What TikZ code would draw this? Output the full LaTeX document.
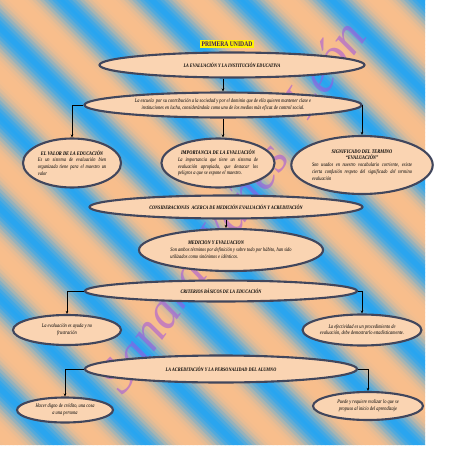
\documentclass[tikz,border=0pt]{standalone}
\usepackage{fontspec}
\setmainfont{Liberation Serif}[FakeStretch=0.8]
\newfontfamily\firmafont{Liberation Serif}
\usetikzlibrary{shapes.geometric,arrows.meta}
\definecolor{naranja}{RGB}{248,190,140}
\definecolor{azul}{RGB}{40,165,240}
\definecolor{relleno}{RGB}{250,212,178}
\definecolor{borde}{RGB}{65,70,92}
\definecolor{firma}{RGB}{160,80,225}
\definecolor{tinta}{RGB}{60,25,90}
\tikzset{
  globo/.style 2 args={ellipse, draw=borde, line width=1.8pt, fill=relleno,
    inner sep=0pt, align=center, minimum width=#1*0.03cm, minimum height=#2*0.03cm},
  titulo/.style={font=\fontsize{4.5}{5.5}\selectfont\bfseries\itshape},
  texto/.style={font=\fontsize{4.7}{5.8}\selectfont\itshape},
  marca/.style={text=firma, opacity=0.55, rotate=55, inner sep=0pt, font=\firmafont\fontsize{44}{44}\selectfont\itshape},
  flecha/.style={line width=0.5pt, -{Stealth[length=2.6pt,width=2.2pt]}},
}
\begin{document}
\begin{tikzpicture}[x=0.03cm,y=-0.03cm]
    \useasboundingbox (0,0) rectangle (453,453);
    % fondo a rayas
    \begin{scope}
      \clip (0,0) rectangle (425,445);
      \foreach \s in {-448,-444,...,428}{
        \pgfmathsetmacro{\p}{100*((1+cos(4*(\s+30)))/2)^1.8}
        \fill[azul!\p!naranja] (\s,0) -- ++(4.6,0) -- ++(445,445) -- ++(-4.6,0) -- cycle;
      }
    \end{scope}
    % firma
    \node[marca] (firma1) at (152,325) {Sandra};
    \node[marca] (firma2) at (243,197) {Yañes};
    \node[marca] (firma3) at (324,68) {León};
    % titulo
    \node[fill=yellow, inner sep=1pt, text=tinta, font=\fontsize{6}{6.5}\selectfont\bfseries] (unidad) at (227,44) {PRIMERA UNIDAD};
    % nivel 1
    \node[globo={265}{25}, titulo] (inst) at (232,65) {LA EVALUACIÓN Y LA INSTITUCIÓN EDUCATIVA};
    \node[globo={277}{25}, texto] (escuela) at (223,105) {La escuela \ por su contribución a la sociedad y por el dominio que de ella quieren mantener clase e\\instituciones en lucha, considerándola como uno de los medios más eficaz de control social.};
    % nivel 2
    \node[globo={98}{49}, texto, text width=2.05cm, align=justify] (valor) at (72,163)
      {{\centering\bfseries EL VALOR DE LA EDUCACIÓN\par}Es un sistema de evaluación bien\linebreak organizada tiene para el maestro un\linebreak valor};
    \node[globo={100}{49}, texto, text width=2.4cm, align=justify] (importancia) at (218,163)
      {{\centering\bfseries IMPORTANCIA DE LA EVALUACIÓN\par}La importancia que tiene un sistema de\linebreak evaluación apropiada, que destacar los\linebreak peligros a que se expone el maestro.};
    \node[globo={134}{58}, texto, text width=3cm, align=justify] (significado) at (362,165)
      {{\centering\bfseries SIGNIFICADO DEL TERMINO\\ “EVALUACIÓN”\par}Son usados en nuestro vocabulario corriente, existe\linebreak cierta confusión respeto del significado del termino\linebreak evaluación};
    % nivel 3
    \node[globo={273}{23}, titulo] (consid) at (226,207) {CONSIDERACIONES \ ACERCA DE MEDICIÓN EVALUACIÓN Y ACREDITACIÓN};
    \node[globo={184}{42}, texto, align=left] (medicion) at (231,250)
      {\hspace*{3.2em}\textbf{MEDICION Y EVALUACION}\\Son ambos términos por definición y sobre todo por hábito, han sido\\utilizados como sinónimos e idénticos.};
    % nivel 4
    \node[globo={272}{21}, titulo] (criterios) at (221,291) {CRITERIOS BÁSICOS DE LA EDUCACIÓN};
    \node[globo={108}{30}, texto] (ayuda) at (67,330) {La evaluación es ayuda y no\\frustración};
    \node[globo={118}{31}, texto] (efectividad) at (362,330) {La efectividad es un procedimiento de\\evaluación, debe demostrarlo estadísticamente.};
    % nivel 5
    \node[globo={272}{27}, titulo] (acreditacion) at (221,369) {LA ACREDITACIÓN Y LA PERSONALIDAD DEL ALUMNO};
    \node[globo={96}{25}, texto] (digno) at (65,410) {Hacer digno de crédito, una cosa\\a una persona};
    \node[globo={110}{28}, texto] (requiere) at (368,406) {Puede y requiere realizar lo que se\\propuso al inicio del aprendizaje};
    % conectores
    \draw[flecha] (escuela.north |- inst.south) -- (escuela.north);
    \draw[flecha] (escuela.west) -| (valor.north);
    \draw[flecha] (escuela.south) -- (escuela.south |- importancia.north);
    \draw[flecha] (escuela.east) -| (significado.north);
    \draw[flecha] (consid.south) -- (consid.south |- medicion.north);
    \draw[flecha] (criterios.west) -| (ayuda.north);
    \draw[flecha] (criterios.east) -| (efectividad.north);
    \draw[flecha] (acreditacion.west) -| (digno.north);
    \draw[flecha] (acreditacion.east) -| (requiere.north);
\end{tikzpicture}
\end{document}
